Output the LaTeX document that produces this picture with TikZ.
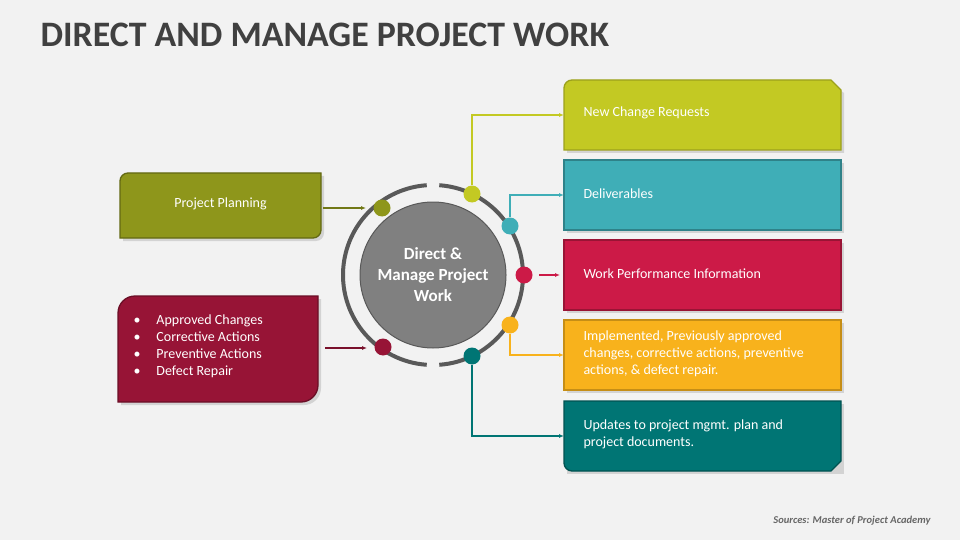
\documentclass[tikz,border=0pt]{standalone}
\usepackage{fontspec}
\setmainfont{Carlito}
\usetikzlibrary{arrows.meta}
\definecolor{bg}{HTML}{F2F2F2}
\definecolor{olive}{HTML}{8E961B}
\definecolor{lime}{HTML}{C3C923}
\definecolor{cyanb}{HTML}{3FAEB7}
\definecolor{crim}{HTML}{CC1A47}
\definecolor{orng}{HTML}{F8B21C}
\definecolor{dteal}{HTML}{007574}
\definecolor{maroon}{HTML}{971436}
\definecolor{ring}{HTML}{595959}
\begin{document}
\begin{tikzpicture}[x=1pt,y=-1pt,
  txt/.style={text=white,font=\fontsize{14}{17}\selectfont,align=left,anchor=west},
  dot/.style={circle,minimum size=17pt,inner sep=0pt},
  conn/.style={line width=1.3pt,-{Latex[length=5pt,width=4pt]}},
  shadow/.style={fill=black!25,opacity=0.6},
  rbox/.style={rectangle,minimum width=277pt,minimum height=70pt,line width=1.3pt}]
\fill[bg] (0,0) rectangle (960,540);
\node[anchor=west,font=\bfseries\fontsize{35.8}{40}\selectfont,text=black!75] (title) at (37,35) {DIRECT AND MANAGE PROJECT WORK};
% ring
\draw[ring,line width=4pt] (433,275) ++(94:90) arc (94:266:90);
\draw[ring,line width=4pt] (433,275) ++(86:90) arc (86:-86:90);
\node[circle,fill=black!50,draw=black!65,line width=1pt,minimum size=146pt,text=white,font=\bfseries\fontsize{17}{21}\selectfont,align=center] (c) at (433,275) {Direct \&\\Manage Project\\Work};
% right boxes
\fill[shadow] (567,83) -- (567,90) arc (180:270:8) -- (831,83) -- (844,93) -- (844,153) -- (567,153) -- cycle;
\draw[lime!80!black,fill=lime,line width=1.3pt] (564,150) -- (564,88) arc (180:270:8) -- (831,80) -- (841,90) -- (841,150) -- cycle;
\node (b1) at (702.5,115) {};
\fill[shadow] (567,163) rectangle (844,233);
\node[rbox,draw=cyanb!75!black,fill=cyanb] (b2) at (702.5,195) {};
\fill[shadow] (567,243) rectangle (844,313);
\node[rbox,draw=crim!75!black,fill=crim] (b3) at (702.5,275) {};
\fill[shadow] (567,323) rectangle (844,393);
\node[rbox,draw=orng!80!black,fill=orng] (b4) at (702.5,355) {};
\fill[shadow] (567,404) rectangle (844,474);
\draw[dteal!70!black,fill=dteal,line width=1.3pt] (564,401) -- (841,401) -- (841,461) -- (831,471) -- (572,471) arc (90:180:8) -- cycle;
\node (b5) at (702.5,436) {};
\node[txt] at (580,113) {New Change Requests};
\node[txt] at (580,194) {Deliverables};
\node[txt] at (580,274) {Work Performance Information};
\node[txt] at (580,354) {Implemented, Previously approved\\changes, corrective actions, preventive\\actions, \& defect repair.};
\node[txt] at (580,434) {Updates to project mgmt. plan and\\project documents.};
% left boxes
\fill[shadow] (123,176) -- (123,184) arc (180:270:8) -- (324,176) -- (324,233) arc (0:90:8) -- (123,241) -- cycle;
\draw[olive!70!black,fill=olive,line width=1.3pt] (120,238) -- (120,181) arc (180:270:8) -- (321,173) -- (321,230) arc (0:90:8) -- cycle;
\node (l1) at (220.5,205.5) {};
\node[text=white,font=\fontsize{14}{17}\selectfont] at (220.5,204) {Project Planning};
\fill[shadow] (121,299) -- (121,316) arc (180:270:17) -- (321,299) -- (321,388) arc (0:90:17) -- (121,405) -- cycle;
\draw[maroon!70!black,fill=maroon,line width=1.3pt] (118,402) -- (118,313) arc (180:270:17) -- (318,296) -- (318,385) arc (0:90:17) -- cycle;
\node (l2) at (218,349) {};
\node[text=white,font=\fontsize{14}{17}\selectfont,align=left,anchor=west] at (130,346)
 {\textbullet\hspace{16pt}Approved Changes\\\textbullet\hspace{16pt}Corrective Actions\\\textbullet\hspace{16pt}Preventive Actions\\\textbullet\hspace{16pt}Defect Repair};
% dots
\node[dot,fill=olive] (d1) at (382,208) {};
\node[dot,fill=lime] (d2) at (472,194) {};
\node[dot,fill=cyanb] (d3) at (510,226) {};
\node[dot,fill=crim] (d4) at (524,275) {};
\node[dot,fill=orng] (d5) at (510,325) {};
\node[dot,fill=dteal] (d6) at (472,356) {};
\node[dot,fill=maroon] (d7) at (383,347) {};
% connectors
\coordinate (e1) at (366,208);
\coordinate (e7) at (367,348);
\draw[conn,olive!80!black] (l1.center -| 323,0) ++(0,2.5) -- (e1);
\draw[conn,maroon!80!black] (325,348) -- (e7);
\draw[conn,lime] (d2.north) |- (564,115);
\draw[conn,cyanb] (d3.north) |- (564,195);
\draw[conn,crim] (539,275) -- (560,275);
\draw[conn,orng] (d5.south) |- (564,355);
\draw[conn,dteal] (d6.south) |- (564,436);
\node[anchor=east,font=\bfseries\itshape\fontsize{10.5}{12}\selectfont,text=black!60] (src) at (934,521) {Sources: Master of Project Academy};
\end{tikzpicture}
\end{document}
